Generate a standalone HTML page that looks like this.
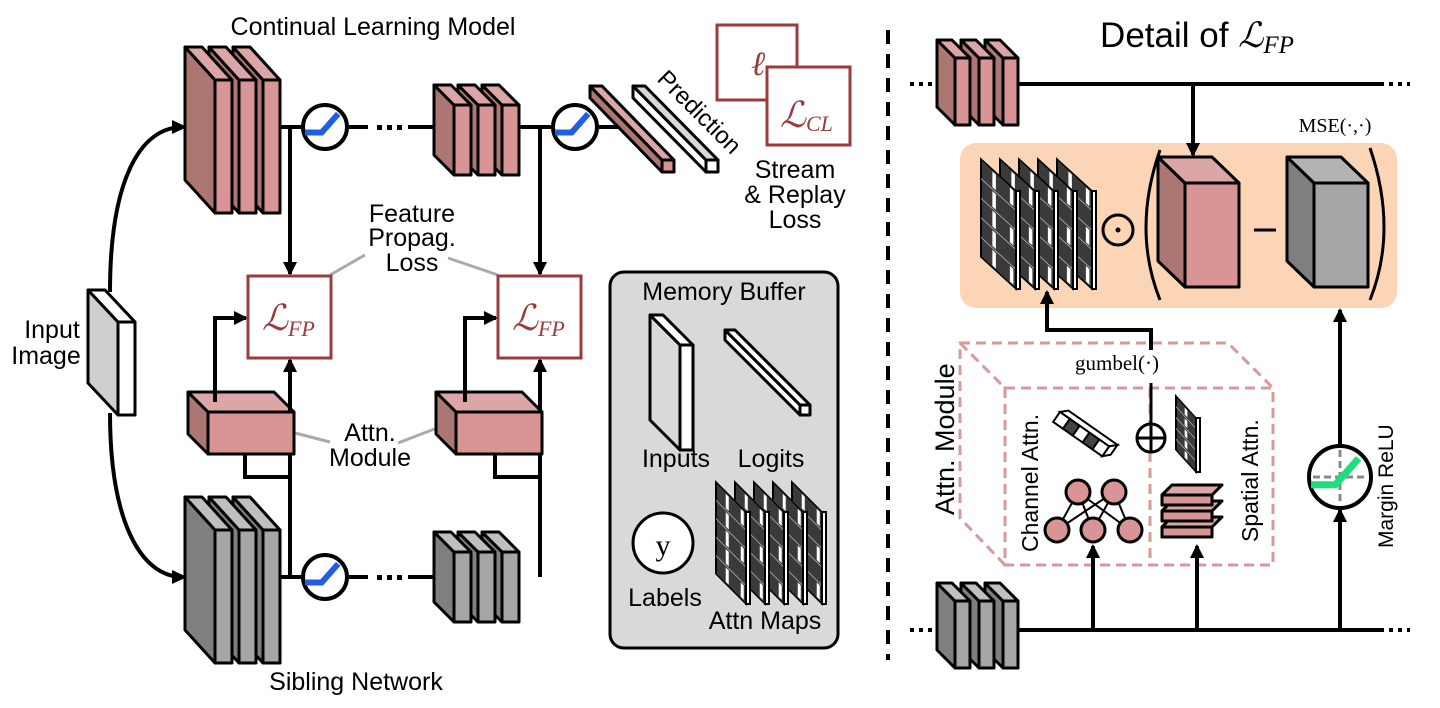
<!DOCTYPE html>
<html><head><meta charset="utf-8"><style>
html,body{margin:0;padding:0;background:#fff;}
svg{display:block;font-family:"Liberation Sans",sans-serif;}
.s{font-family:"Liberation Serif","DejaVu Serif",serif;}
</style></head><body>
<svg id="g" width="1440" height="708" viewBox="0 0 1440 708" xmlns="http://www.w3.org/2000/svg">
<defs>
<marker id="ah2" markerWidth="14" markerHeight="14" refX="12" refY="7" orient="auto" markerUnits="userSpaceOnUse"><path d="M0,0 L14,7 L0,14 z" fill="#000"/></marker>
</defs>
<g id="back"></g>
<rect x="610" y="272" width="228" height="376" rx="14" fill="#d9d9d9" stroke="#000" stroke-width="3"/>
<rect x="960" y="143" width="437" height="165" rx="16" fill="#fbd5b5"/>
<line x1="888" y1="30" x2="888" y2="660" stroke="#000" stroke-width="4" stroke-dasharray="14,10"/>
<g id="fg"></g>
<g font-size="25" text-anchor="middle">
<text x="373" y="35">Continual Learning Model</text>
<text x="356" y="690">Sibling Network</text>
<text x="52" y="338">Input</text>
<text x="46" y="364">Image</text>
<text x="412" y="222">Feature</text>
<text x="412" y="246">Propag.</text>
<text x="412" y="271">Loss</text>
<text x="370" y="441">Attn.</text>
<text x="370" y="466">Module</text>
<text x="795" y="178">Stream</text>
<text x="795" y="203">&amp; Replay</text>
<text x="795" y="228">Loss</text>
<text x="724" y="300">Memory Buffer</text>
<text x="676" y="467">Inputs</text>
<text x="771" y="467">Logits</text>
<text x="665" y="606">Labels</text>
<text x="765" y="629">Attn Maps</text>
</g>
<text x="0" y="0" font-size="24" transform="translate(656,80) rotate(45)">Prediction</text>
<text x="1197" y="47" font-size="35" text-anchor="middle">Detail of <tspan class="s" font-style="italic">ℒ</tspan><tspan class="s" font-style="italic" font-size="25" dy="6">FP</tspan></text>
<text x="1335" y="132" font-size="20" text-anchor="middle" class="s">MSE(·,·)</text>
<text x="1117" y="370" font-size="21" text-anchor="middle" class="s">gumbel(·)</text>
<text font-size="27" transform="translate(954,515) rotate(-90)">Attn. Module</text>
<text font-size="23" transform="translate(1038,552) rotate(-90)">Channel Attn.</text>
<text font-size="23" transform="translate(1258,542) rotate(-90)">Spatial Attn.</text>
<text font-size="21" transform="translate(1393,548) rotate(-90)">Margin ReLU</text>
</svg>
<script>
const NS="http://www.w3.org/2000/svg";
const bk=document.getElementById('back'), fg=document.getElementById('fg');
function el(p,t,a){const e=document.createElementNS(NS,t);for(const k in a)e.setAttribute(k,a[k]);p.appendChild(e);return e;}
function poly(p,pts,fill,sw){return el(p,'polygon',{points:pts.map(q=>q.join(',')).join(' '),fill:fill,stroke:'#000','stroke-width':sw||3,'stroke-linejoin':'round'});}
function line(p,x1,y1,x2,y2,o){o=o||{};return el(p,'line',Object.assign({x1,y1,x2,y2,stroke:'#000','stroke-width':4},o));}
function path(p,d,o){return el(p,'path',Object.assign({d,fill:'none',stroke:'#000','stroke-width':4,'stroke-linejoin':'miter'},o));}
const PK=['#ac7672','#d99595','#dca6a6'], GR=['#7f7f7f','#a6a6a6','#bfbfbf'];
function plate(p,x,y,dx,dy,w,h,c){
  poly(p,[[x,y],[x+dx,y+dy],[x+dx,y+dy+h],[x,y+h]],c[0]);
  poly(p,[[x,y],[x+w,y],[x+w+dx,y+dy],[x+dx,y+dy]],c[2]);
  poly(p,[[x+dx,y+dy],[x+dx+w,y+dy],[x+dx+w,y+dy+h],[x+dx,y+dy+h]],c[1]);
}
function stack(p,x,y,n,sp,dx,dy,w,h,c){for(let i=n-1;i>=0;i--)plate(p,x+i*sp,y,dx,dy,w,h,c);}
function act(p,cx,cy,r,col,grid){
  el(p,'circle',{cx,cy,r,fill:'#fff',stroke:'#000','stroke-width':4});
  if(grid){line(p,cx-r+4,cy,cx+r-4,cy,{stroke:'#888','stroke-width':3,'stroke-dasharray':'7,4'});line(p,cx,cy-r+4,cx,cy+r-4,{stroke:'#888','stroke-width':3,'stroke-dasharray':'7,4'});}
  path(p,`M${cx-r+2},${cy+r*0.25} L${cx-r*0.15},${cy+r*0.25} L${cx+r*0.6},${cy-r*0.6}`,{stroke:col,'stroke-width':grid?7:6});
}
function attnPlate(p,x,y,w,dy,h,cols,rows){
  cols=cols||4;rows=rows||5;
  const g=el(p,'g',{transform:`matrix(1,${dy/w},0,1,${x},${y})`});
  el(g,'rect',{x:0,y:0,width:w,height:h,fill:'#3a3a3a',stroke:'#000','stroke-width':2});
  for(let r=0;r<rows;r++)for(let c=0;c<cols;c++){
    if(c===1||c===3&&r%2===0) el(g,'rect',{x:c*w/cols+w/cols*0.3,y:r*h/rows+2,width:w/cols*0.4,height:h/rows-4,fill:'#fff'});
  }
  for(let r=1;r<rows;r++)line(g,0,r*h/rows,w,r*h/rows,{stroke:'#bbb','stroke-width':1});
  el(p,'polygon',{points:`${x+w},${y+dy} ${x+w+4},${y+dy} ${x+w+4},${y+dy+h} ${x+w},${y+dy+h}`,fill:'#fff',stroke:'#000','stroke-width':2});
}
function attnMaps(p,x,y,n,sp,w,dy,h){for(let i=n-1;i>=0;i--)attnPlate(p,x+i*sp,y,w,dy,h);}
function arrow(p,d){return path(p,d,{'marker-end':'url(#ah2)'});}
function bar(p,x1,y1,x2,y2,s,c){
  poly(p,[[x1,y1],[x1,y1+s],[x2,y2+s],[x2,y2]],c[0],3);
  poly(p,[[x1,y1],[x1+s,y1],[x2+s,y2],[x2,y2]],c[2],3);
  poly(p,[[x2,y2],[x2+s,y2],[x2+s,y2+s],[x2,y2+s]],c[1],3);
}

path(bk,'M110,292 C110,180 140,127 183,127',{});
el(bk,'polygon',{points:'172,120 187,127 172,134'});
path(bk,'M110,413 C110,520 140,577 183,577',{});
el(bk,'polygon',{points:'172,570 187,577 172,584'});
line(bk,270,127,368,127);line(bk,408,127,440,127);
line(bk,270,577,368,577);line(bk,408,577,440,577);
line(bk,510,127,600,127);
for(const yy of [127,577])for(let i=0;i<3;i++)el(bk,'rect',{x:377+i*10,y:yy-2,width:5,height:5,fill:'#000'});
arrow(bk,'M290,127 L290,274');arrow(bk,'M540,127 L540,274');
arrow(bk,'M290,577 L290,360');arrow(bk,'M540,577 L540,360');
arrow(bk,'M215,398 L215,318 L246,318');arrow(bk,'M465,398 L465,318 L496,318');
path(bk,'M245,447 L245,477 L290,477');path(bk,'M495,447 L495,477 L540,477');
const gl={stroke:'#aaa','stroke-width':3};
line(bk,330,275,365,255,gl);line(bk,448,258,498,275,gl);
line(bk,295,433,330,442,gl);line(bk,398,443,437,428,gl);

plate(fg,88,290,30,32,17,93,['#cfcfcf','#fff','#fff']);
stack(fg,185,47,3,24,30,33,17,133,PK);
stack(fg,434,85,3,24,20,20,17,70,PK);
stack(fg,185,497,3,24,30,33,17,133,GR);
stack(fg,434,532,3,24,20,20,17,70,GR);
act(fg,325,127,22,'#1f5fe0');act(fg,575,127,22,'#1f5fe0');act(fg,325,577,22,'#1f5fe0');
line(fg,598,127,622,127);
bar(fg,590,86,662,160,12,PK);
bar(fg,633,86,706,160,12,['#fff','#fff','#d8d8d8']);
const br={fill:'#fff',stroke:'#9b3b3b','stroke-width':3};
el(fg,'rect',Object.assign({x:717,y:25,width:80,height:75},br));
el(fg,'rect',Object.assign({x:767,y:67,width:83,height:78},br));
el(fg,'rect',Object.assign({x:248,y:276,width:83,height:82},br));
el(fg,'rect',Object.assign({x:498,y:276,width:83,height:82},br));
function box3(p,x,y,w,h,dx,dy,c){
  poly(p,[[x,y],[x+dx,y+dy],[x+dx,y+dy+h],[x,y+h]],c[0]);
  poly(p,[[x,y],[x+w,y],[x+w+dx,y+dy],[x+dx,y+dy]],c[2]);
  poly(p,[[x+dx,y+dy],[x+dx+w,y+dy],[x+dx+w,y+dy+h],[x+dx,y+dy+h]],c[1]);
}
box3(fg,188,392,86,42,20,20,PK);box3(fg,436,392,86,42,20,20,PK);
line(fg,215,392,215,402);line(fg,465,392,465,402);
line(fg,290,405,290,412);line(fg,540,405,540,412);

plate(fg,650,315,30,30,13,105,['#d9d9d9','#fff','#fff']);
bar(fg,725,330,800,405,10,['#fff','#fff','#fff']);
el(fg,'circle',{cx:663,cy:543,r:30,fill:'#fff',stroke:'#000','stroke-width':3});
attnMaps(fg,716,482,5,19,30,30,92);

line(bk,910,84,935,84,{'stroke-dasharray':'4,5'});line(bk,1015,84,1380,84);line(bk,1380,84,1410,84,{'stroke-dasharray':'4,5'});
line(bk,910,630,935,630,{'stroke-dasharray':'4,5'});line(bk,1015,630,1380,630);line(bk,1380,630,1410,630,{'stroke-dasharray':'4,5'});
arrow(fg,'M1193,84 L1193,155');
stack(fg,937,40,3,24,18,18,15,67,PK);
stack(fg,937,583,3,24,18,18,15,67,GR);
attnMaps(fg,981,159,5,19,35,32,98);
el(fg,'circle',{cx:1118,cy:230,r:15,fill:'none',stroke:'#000','stroke-width':3});
el(fg,'circle',{cx:1118,cy:230,r:2.5,fill:'#000'});
path(fg,'M1160,150 Q1132,230 1160,300',{'stroke-width':3});
path(fg,'M1370,148 Q1398,230 1370,300',{'stroke-width':3});
box3(fg,1158,157,54,104,27,26,['#ac7672','#d99595','#dca6a6']);
line(fg,1254,230,1276,230,{'stroke-width':3});
box3(fg,1287,157,54,104,27,26,['#7f7f7f','#a6a6a6','#b3b3b3']);
const dsh={fill:'none',stroke:'#d89a96','stroke-width':3,'stroke-dasharray':'10,6'};
el(fg,'polyline',Object.assign({points:'1005,565 960,518 960,343 1228,343 1273,388'},dsh));
line(fg,960,343,1005,388,dsh);
el(fg,'rect',Object.assign({x:1005,y:388,width:268,height:177},dsh));
line(fg,1150,388,1150,565,dsh);
arrow(fg,'M1151,350 L1151,330 L1047,330 L1047,292');
line(fg,1151,383,1151,425,{'stroke-width':3});
el(fg,'circle',{cx:1151,cy:438,r:14,fill:'#fff',stroke:'#000','stroke-width':3});
line(fg,1137,438,1165,438,{'stroke-width':3});line(fg,1151,424,1151,452,{'stroke-width':3});
arrow(fg,'M1093,630 L1093,546');
arrow(fg,'M1197,630 L1197,546');
arrow(fg,'M1340,630 L1340,510');
arrow(fg,'M1340,446 L1340,310');
act(fg,1340,477,31,'#19e07c',true);
const vg=el(fg,'g',{transform:'translate(1060,412) rotate(35)'});
el(vg,'polygon',{points:'0,0 6,-6 66,-6 60,0',fill:'#fff',stroke:'#000','stroke-width':2});
el(vg,'polygon',{points:'60,0 66,-6 66,6 60,12',fill:'#fff',stroke:'#000','stroke-width':2});
for(let i=0;i<5;i++)el(vg,'rect',{x:i*12,y:0,width:12,height:12,fill:i%2?'#444':'#fff',stroke:'#000','stroke-width':2});
attnPlate(fg,1176,396,20,22,54,3,5);
const nodes=[[1078,492],[1114,492],[1057,530],[1093,530],[1130,530]];
for(const a of nodes.slice(0,2))for(const b of nodes.slice(2))line(fg,a[0],a[1],b[0],b[1],{'stroke-width':2});
for(const n of nodes)el(fg,'circle',{cx:n[0],cy:n[1],r:12,fill:'#d99595',stroke:'#000','stroke-width':3});
for(let i=2;i>=0;i--){const y=485+i*16;box3(fg,1172,y,50,10,-10,10,PK);}
</script>
<svg style="position:absolute;left:0;top:0" width="1440" height="708" xmlns="http://www.w3.org/2000/svg">
<g class="s" font-style="italic" fill="#9b3b3b">
<text x="751" y="75" font-size="34" class="s">ℓ</text>
<text x="780" y="127" font-size="36" class="s">ℒ<tspan font-size="22" dy="4">CL</tspan></text>
<text x="262" y="330" font-size="36" class="s">ℒ<tspan font-size="22" dy="6">FP</tspan></text>
<text x="512" y="330" font-size="36" class="s">ℒ<tspan font-size="22" dy="6">FP</tspan></text>
</g>
<text x="663" y="555" font-size="30" text-anchor="middle" font-family="Liberation Serif,serif">y</text>
</svg>
</body></html>
